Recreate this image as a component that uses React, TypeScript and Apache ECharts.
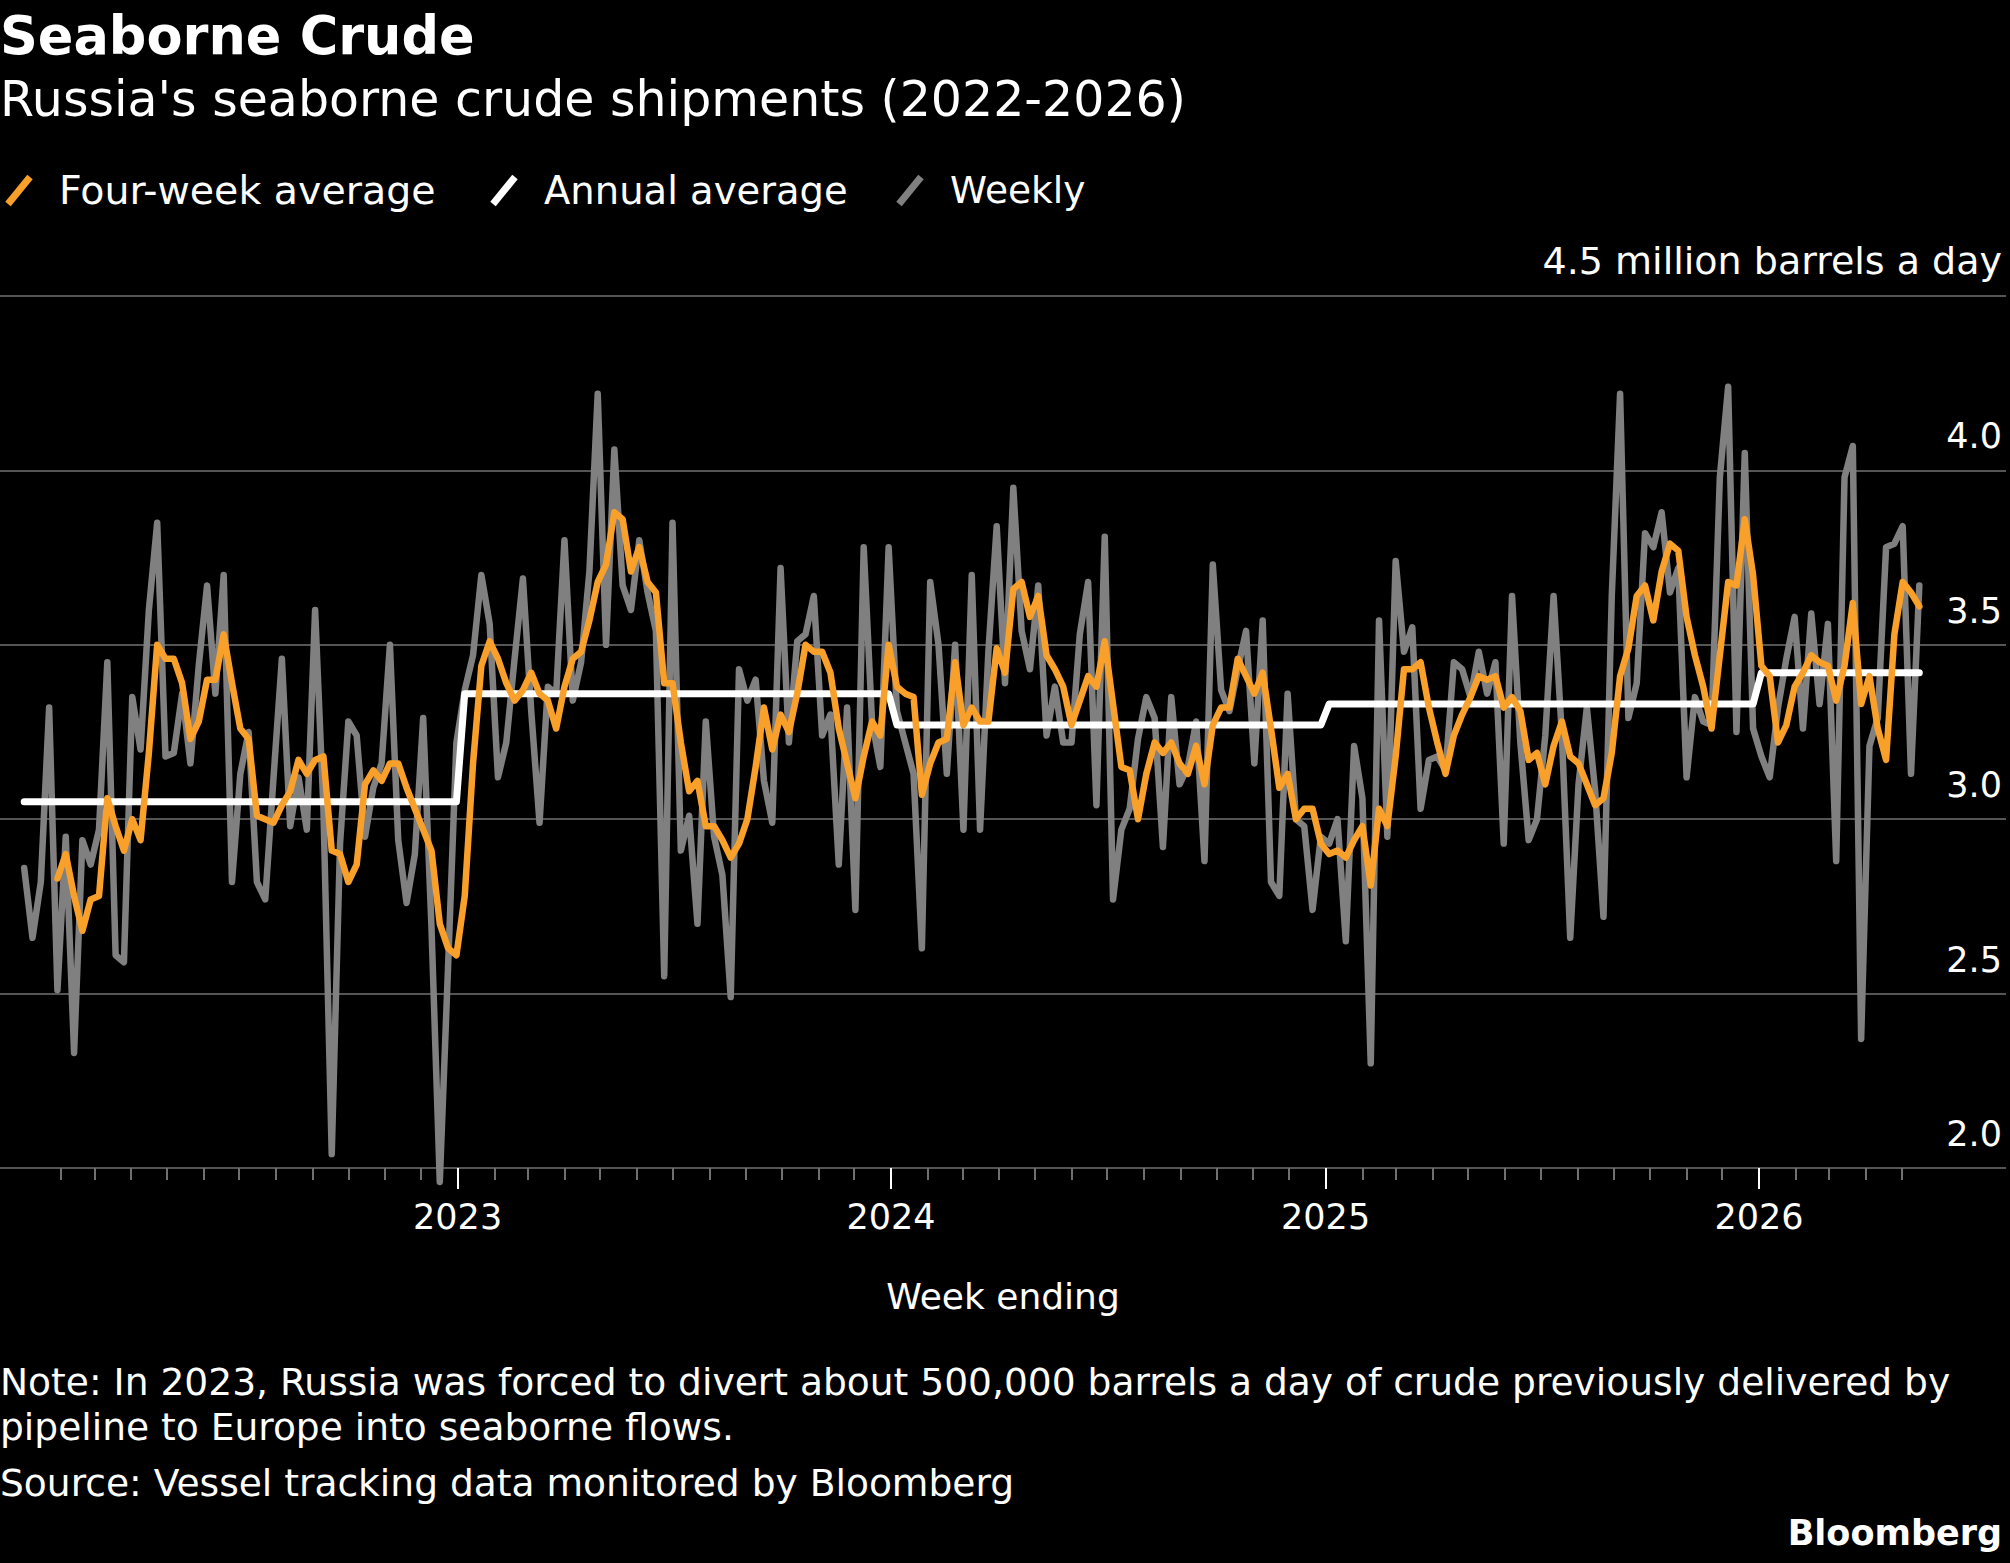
import React, { useEffect, useRef } from "react";
import * as echarts from "echarts";

// Weekly seaborne crude shipments, million barrels a day (weeks ending from 1 Jan 2022)
const weekly: number[] = [
  2.86, 2.66, 2.82, 3.32, 2.51, 2.95, 2.33, 2.94, 2.87, 2.97,
  3.45, 2.61, 2.59, 3.35, 3.20, 3.60, 3.85, 3.18, 3.19, 3.36,
  3.16, 3.44, 3.67, 3.36, 3.70, 2.82, 3.13, 3.25, 2.82, 2.77,
  3.12, 3.46, 2.98, 3.12, 2.97, 3.60, 3.03, 2.04, 2.93, 3.28,
  3.24, 2.95, 3.09, 3.16, 3.50, 2.94, 2.76, 2.90, 3.29, 2.69,
  1.96, 2.58, 3.22, 3.37, 3.47, 3.70, 3.56, 3.12, 3.22, 3.46,
  3.69, 3.31, 2.99, 3.38, 3.36, 3.80, 3.34, 3.45, 3.71, 4.22,
  3.50, 4.06, 3.67, 3.60, 3.80, 3.65, 3.54, 2.55, 3.85, 2.91,
  3.01, 2.70, 3.28, 2.95, 2.84, 2.49, 3.43, 3.34, 3.40, 3.11,
  2.99, 3.72, 3.22, 3.51, 3.53, 3.64, 3.24, 3.30, 2.87, 3.32,
  2.74, 3.78, 3.28, 3.15, 3.78, 3.31, 3.22, 3.13, 2.63, 3.68,
  3.50, 3.13, 3.50, 2.97, 3.70, 2.97, 3.48, 3.84, 3.39, 3.95,
  3.54, 3.43, 3.67, 3.24, 3.38, 3.22, 3.22, 3.53, 3.68, 3.04,
  3.81, 2.77, 2.97, 3.03, 3.23, 3.35, 3.29, 2.92, 3.35, 3.10,
  3.15, 3.28, 2.88, 3.73, 3.37, 3.31, 3.43, 3.54, 3.16, 3.57,
  2.82, 2.78, 3.36, 3.00, 2.98, 2.74, 2.95, 2.93, 3.00, 2.65,
  3.21, 3.06, 2.30, 3.57, 2.95, 3.74, 3.48, 3.55, 3.03, 3.17,
  3.18, 3.14, 3.45, 3.43, 3.35, 3.48, 3.36, 3.45, 2.93, 3.64,
  3.22, 2.94, 3.00, 3.24, 3.64, 3.24, 2.66, 3.10, 3.32, 3.08,
  2.72, 3.64, 4.22, 3.29, 3.39, 3.82, 3.78, 3.88, 3.65, 3.72,
  3.12, 3.35, 3.28, 3.27, 3.98, 4.24, 3.25, 4.05, 3.26, 3.18,
  3.12, 3.32, 3.46, 3.58, 3.26, 3.59, 3.33, 3.56, 2.88, 3.98,
  4.07, 2.37, 3.21, 3.29, 3.78, 3.79, 3.84, 3.13, 3.67,
];

// Four-week average, same weeks (no value for the first four weeks)
const fourWeekAverage: (number | null)[] = [
  null, null, null, null, 2.83, 2.90, 2.78, 2.68, 2.77, 2.78,
  3.06, 2.98, 2.91, 3.00, 2.94, 3.19, 3.50, 3.46, 3.46, 3.39,
  3.23, 3.28, 3.40, 3.40, 3.53, 3.39, 3.26, 3.23, 3.01, 3.00,
  2.99, 3.04, 3.08, 3.17, 3.13, 3.17, 3.18, 2.91, 2.90, 2.82,
  2.87, 3.10, 3.14, 3.11, 3.16, 3.16, 3.09, 3.03, 2.97, 2.91,
  2.70, 2.63, 2.61, 2.78, 3.16, 3.44, 3.51, 3.46, 3.39, 3.34,
  3.37, 3.42, 3.36, 3.34, 3.26, 3.38, 3.46, 3.48, 3.57, 3.68,
  3.73, 3.88, 3.86, 3.71, 3.78, 3.68, 3.65, 3.39, 3.39, 3.22,
  3.08, 3.11, 2.98, 2.98, 2.94, 2.89, 2.93, 3.00, 3.15, 3.32,
  3.20, 3.30, 3.25, 3.36, 3.50, 3.48, 3.48, 3.42, 3.26, 3.16,
  3.06, 3.18, 3.28, 3.24, 3.50, 3.38, 3.36, 3.35, 3.07, 3.16,
  3.22, 3.23, 3.45, 3.27, 3.32, 3.28, 3.28, 3.49, 3.42, 3.66,
  3.68, 3.58, 3.64, 3.47, 3.43, 3.38, 3.27, 3.34, 3.41, 3.38,
  3.51, 3.33, 3.15, 3.14, 3.00, 3.13, 3.22, 3.19, 3.22, 3.16,
  3.13, 3.21, 3.10, 3.27, 3.32, 3.32, 3.46, 3.41, 3.36, 3.42,
  3.26, 3.09, 3.13, 3.00, 3.03, 3.03, 2.93, 2.90, 2.91, 2.89,
  2.94, 2.98, 2.81, 3.03, 2.98, 3.18, 3.43, 3.43, 3.45, 3.32,
  3.22, 3.13, 3.24, 3.30, 3.35, 3.41, 3.40, 3.41, 3.32, 3.35,
  3.31, 3.17, 3.19, 3.10, 3.21, 3.28, 3.18, 3.16, 3.10, 3.04,
  3.06, 3.19, 3.41, 3.49, 3.64, 3.67, 3.57, 3.71, 3.79, 3.77,
  3.58, 3.47, 3.38, 3.26, 3.47, 3.68, 3.67, 3.86, 3.70, 3.44,
  3.41, 3.22, 3.27, 3.38, 3.42, 3.47, 3.45, 3.44, 3.34, 3.44,
  3.62, 3.33, 3.41, 3.26, 3.17, 3.53, 3.68, 3.65, 3.61,
];

// Annual average by calendar year
const annualYears = [2022, 2023, 2024, 2025, 2026];
const annualAverage = [3.05, 3.36, 3.27, 3.33, 3.42];

// Labelled year ticks on the date axis
const yearTickLabels = [2023, 2024, 2025, 2026];

const DAY = 86400000;
const FIRST_WEEK = Date.UTC(2022, 0, 1);
const weekEnding = weekly.map((_, i) => FIRST_WEEK + i * 7 * DAY);

const X_MIN = Date.UTC(2021, 11, 11, 15);
const X_MAX = Date.UTC(2026, 6, 28);

const monthTicks: number[] = [];
for (let y = 2022; y <= 2026; y++) {
  for (let m = 1; m < 12; m++) {
    const t = Date.UTC(y, m, 1);
    if (t <= Date.UTC(2026, 4, 1)) monthTicks.push(t);
  }
}
const yearTicks = yearTickLabels.map((y) => Date.UTC(y, 0, 1));

const FONT = '"DejaVu Sans", "Liberation Sans", sans-serif';
const ORANGE = "#f9a02b";
const GREY = "#808080";
const WHITE = "#ffffff";
const GRID = "#555555";

const weeklyData = weekEnding.map((t, i) => [t, weekly[i]]);
const fourWeekData = weekEnding.map((t, i) => [t, fourWeekAverage[i]]);
const annualData = weekEnding.map((t) => {
  const yr = new Date(t).getUTCFullYear();
  return [t, annualAverage[annualYears.indexOf(yr)]];
});

const legendItems = [
  { label: "Four-week average", color: ORANGE, x: 4, size: 39.5 },
  { label: "Annual average", color: WHITE, x: 489, size: 38.5 },
  { label: "Weekly", color: GREY, x: 895, size: 37.5 },
];

const footerLines = [
  { text: "Note: In 2023, Russia was forced to divert about 500,000 barrels a day of crude previously delivered by", y: 1382 },
  { text: "pipeline to Europe into seaborne flows.", y: 1427 },
  { text: "Source: Vessel tracking data monitored by Bloomberg", y: 1483 },
];

function buildOption(): any {
  const graphic: any[] = [];
  legendItems.forEach((it) => {
    graphic.push({
      type: "line",
      shape: { x1: it.x + 4, y1: 204, x2: it.x + 26, y2: 177 },
      style: { stroke: it.color, lineWidth: 7, lineCap: "butt" },
    });
    graphic.push({
      type: "text",
      x: it.x + 55,
      y: 190,
      style: { text: it.label, fill: WHITE, fontSize: it.size, fontFamily: FONT, verticalAlign: "middle", align: "left" },
    });
  });
  footerLines.forEach((l) => {
    graphic.push({
      type: "text",
      x: 0,
      y: l.y,
      style: { text: l.text, fill: WHITE, fontSize: 37.6, fontFamily: FONT, verticalAlign: "middle", align: "left" },
    });
  });
  graphic.push({
    type: "text",
    x: 2002,
    y: 1533,
    style: { text: "Bloomberg", fill: WHITE, fontSize: 35, fontWeight: "bold", fontFamily: FONT, verticalAlign: "middle", align: "right" },
  });

  return {
    backgroundColor: "#000000",
    animation: false,
    textStyle: { fontFamily: FONT, color: WHITE },
    title: {
      text: "Seaborne Crude",
      subtext: "Russia's seaborne crude shipments (2022-2026)",
      left: 0,
      top: 5,
      padding: 0,
      itemGap: 6,
      textStyle: { color: WHITE, fontSize: 52.5, fontWeight: "bold", fontFamily: FONT, lineHeight: 60 },
      subtextStyle: { color: WHITE, fontSize: 49, fontFamily: FONT, lineHeight: 56 },
    },
    grid: { left: 0, right: 4, top: 296, bottom: 395 },
    xAxis: [
      {
        type: "value",
        min: X_MIN,
        max: X_MAX,
        position: "bottom",
        axisLine: { show: false },
        splitLine: { show: false },
        axisTick: { show: true, customValues: monthTicks, length: 12, lineStyle: { color: "#707070", width: 2 } },
        axisLabel: { show: false },
        name: "Week ending",
        nameLocation: "middle",
        nameGap: 110,
        nameTextStyle: { color: WHITE, fontSize: 36, fontFamily: FONT },
      },
      {
        type: "value",
        min: X_MIN,
        max: X_MAX,
        position: "bottom",
        axisLine: { show: false },
        splitLine: { show: false },
        axisTick: { show: true, customValues: yearTicks, length: 21, lineStyle: { color: WHITE, width: 2 } },
        axisLabel: {
          show: true,
          customValues: yearTicks,
          formatter: (v: number) => String(new Date(v).getUTCFullYear()),
          color: WHITE,
          fontSize: 35,
          fontFamily: FONT,
          margin: 31,
        },
      },
    ],
    yAxis: {
      type: "value",
      position: "right",
      min: 2,
      max: 4.5,
      interval: 0.5,
      axisLine: { show: false },
      axisTick: { show: false },
      splitLine: { show: true, lineStyle: { color: GRID, width: 2 } },
      axisLabel: {
        inside: true,
        margin: 4,
        color: WHITE,
        fontSize: 35,
        fontFamily: FONT,
        verticalAlign: "bottom",
        lineHeight: 36,
        padding: [0, 0, 16, 0],
        formatter: (v: number) => (v === 4.5 ? "{unit|4.5 million barrels a day}" : v.toFixed(1)),
        rich: { unit: { fontSize: 38, color: WHITE, fontFamily: FONT, lineHeight: 38 } },
      },
    },
    graphic,
    series: [
      {
        name: "Weekly",
        type: "line",
        data: weeklyData,
        showSymbol: false,
        clip: false,
        silent: true,
        lineStyle: { color: GREY, width: 6.5, join: "round", cap: "round" },
        itemStyle: { color: GREY },
      },
      {
        name: "Annual average",
        type: "line",
        data: annualData,
        showSymbol: false,
        silent: true,
        lineStyle: { color: WHITE, width: 7, join: "round", cap: "round" },
        itemStyle: { color: WHITE },
      },
      {
        name: "Four-week average",
        type: "line",
        data: fourWeekData,
        showSymbol: false,
        silent: true,
        lineStyle: { color: ORANGE, width: 6.5, join: "round", cap: "round" },
        itemStyle: { color: ORANGE },
      },
    ],
  };
}

export default function App() {
  const ref = useRef<HTMLDivElement>(null);
  useEffect(() => {
    document.body.style.margin = "0";
    document.body.style.background = "#000";
    const chart = echarts.init(ref.current!, undefined, { renderer: "svg" });
    chart.setOption(buildOption());
    return () => chart.dispose();
  }, []);
  return <div ref={ref} style={{ width: 2010, height: 1563, background: "#000" }} />;
}
